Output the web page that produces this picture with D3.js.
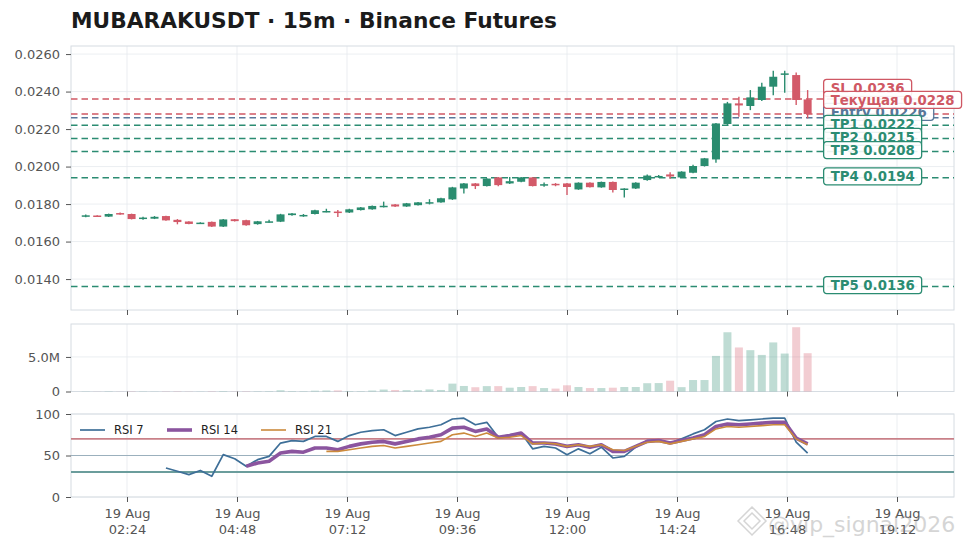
<!DOCTYPE html>
<html>
<head>
<meta charset="utf-8">
<script src="https://cdn.jsdelivr.net/npm/d3@7"></script>
<style>
  body { margin: 0; background: #fff; }
  svg { font-family: "DejaVu Sans", sans-serif; }
</style>
</head>
<body>
<div id="chart"></div>
<script>
// candles: 15m bars starting 19 Aug 01:30 UTC
const startTime = Date.UTC(2025, 7, 19, 1, 30);
const stepMinutes = 15;

const opens = [.01733,.01739,.01733,.01752,.01747,.01720,.01722,.01736,.01716,.01707,
  .01698,.01705,.01680,.01719,.01714,.01693,.01703,.01706,.01741,.01739,
  .01747,.01758,.01760,.01755,.01768,.01772,.01784,.01798,.01787,.01794,
  .01803,.01809,.01825,.01883,.01910,.01896,.01942,.01910,.01919,.01942,
  .01899,.01908,.01910,.01878,.01914,.01889,.01918,.01875,.01883,.01928,
  .01944,.01958,.01942,.01967,.02003,.02038,.02227,.02337,.02323,.02355,
  .02426,.02492,.02488,.02358];
const highs = [.01744,.01741,.01749,.01755,.01749,.01732,.01736,.01738,.01720,.01709,
  .01703,.01707,.01720,.01721,.01716,.01710,.01716,.01748,.01752,.01747,
  .01770,.01775,.01768,.01775,.01785,.01792,.01813,.01800,.01806,.01811,
  .01826,.01834,.01892,.01913,.01912,.01938,.01945,.01945,.01945,.01944,
  .01915,.01912,.01912,.01916,.01916,.01920,.01920,.01885,.01917,.01958,
  .01955,.01970,.01975,.02010,.02046,.02233,.02345,.02372,.02408,.02447,
  .02511,.02511,.02502,.02408];
const lows = [.01730,.01732,.01731,.01743,.01718,.01716,.01720,.01711,.01692,.01692,
  .01696,.01678,.01678,.01707,.01685,.01690,.01700,.01704,.01738,.01732,
  .01745,.01756,.01731,.01752,.01766,.01770,.01782,.01784,.01785,.01792,
  .01798,.01807,.01822,.01857,.01880,.01894,.01895,.01907,.01917,.01894,
  .01893,.01895,.01848,.01876,.01888,.01887,.01862,.01835,.01881,.01925,
  .01940,.01935,.01940,.01965,.02000,.02020,.02220,.02266,.02301,.02350,
  .02381,.02394,.02328,.02257];
const closes = [.01740,.01734,.01747,.01745,.01720,.01728,.01732,.01713,.01704,.01694,
  .01701,.01680,.01718,.01709,.01687,.01708,.01708,.01745,.01750,.01742,
  .01767,.01763,.01752,.01772,.01782,.01790,.01791,.01787,.01804,.01809,
  .01810,.01831,.01889,.01910,.01896,.01936,.01901,.01922,.01942,.01896,
  .01906,.01900,.01891,.01914,.01890,.01918,.01875,.01883,.01914,.01952,
  .01950,.01947,.01973,.02003,.02044,.02230,.02337,.02326,.02369,.02426,
  .02479,.02497,.02355,.02280];
// volume in millions
const volumes = [.03,.02,.04,.02,.05,.03,.02,.04,.05,.03,
  .02,.05,.06,.03,.05,.04,.05,.18,.06,.05,
  .12,.15,.16,.06,.05,.14,.28,.22,.20,.18,
  .30,.22,1.14,.80,.62,.78,.78,.55,.65,.78,
  .50,.42,.90,.65,.50,.50,.55,.65,.65,1.20,
  1.22,1.56,.63,1.66,1.66,5.15,8.57,6.37,5.98,5.29,
  7.10,5.49,9.30,5.54];

const N = null;
const rsi7 = [N,N,N,N,N,N,N,
  35,31,27,32,25,51,46,37,45,49,
  65,68,67,73,73,67,74,78,80,81,
  74,78,82,84,87,94,95,87,90,72,
  75,77,58,61,59,51,58,52,60,47,
  49,60,68,69,65,70,76,81,91,94,
  92,93,94,95,95,66,53];
const rsi14 = [N,N,N,N,N,N,N,N,N,N,N,N,N,N,
  37,41,43,53,55,54,59,59,57,61,
  64,66,67,64,67,70,72,75,83,84,
  79,82,72,74,77,65,65,64,61,63,
  60,63,55,55,61,67,68,65,68,71,
  75,85,88,87,88,89,90,90,71,64];
const rsi21 = [N,N,N,N,N,N,N,N,N,N,N,N,N,N,N,N,N,N,N,N,N,
  55,55,57,59,61,62,59,61,63,65,
  67,75,77,73,77,71,72,74,64,65,
  64,61,63,61,63,57,56,61,66,67,
  64,67,70,73,82,85,84,85,86,87,
  87,70,63];

// signal levels
const levelNames  = ["SL", "Entry", "TP1", "TP2", "TP3", "TP4", "TP5", "Текущая"];
const levelPrices = [0.0236, 0.0226, 0.0222, 0.0215, 0.0208, 0.0194, 0.0136, 0.0228];
const levelKinds  = ["stop", "entry", "tp", "tp", "tp", "tp", "tp", "stop"];

// axis ticks
const priceTicks = [0.014, 0.016, 0.018, 0.020, 0.022, 0.024, 0.026];
const volumeTicks = [0, 5];
const rsiTicks = [0, 50, 100];
const timeTicks = ["02:24", "04:48", "07:12", "09:36", "12:00", "14:24", "16:48", "19:12"];

const colors = {
  up: "#2a8c6f", down: "#d35a69",
  stop: "#cf5864", entry: "#58779a", tp: "#2b8c72",
  grid: "#e6eaee", spine: "#d6dce2", tick: "#555"
};

const W = 971, H = 548;
const left = 71, right = 954;
const pricePanel = {top: 46, bottom: 310};
const volPanel = {top: 324, bottom: 391.5};
const rsiPanel = {top: 414, bottom: 497};

const bars = opens.map((o, i) => ({
  t: new Date(startTime + i * stepMinutes * 60000),
  o, h: highs[i], l: lows[i], c: closes[i], v: volumes[i]
}));
const tTicks = timeTicks.map(s => {
  const [hh, mm] = s.split(":").map(Number);
  return new Date(Date.UTC(2025, 7, 19, hh, mm));
});

const svg = d3.select("#chart").append("svg")
  .attr("width", W).attr("height", H);

svg.append("text")
  .attr("x", 71).attr("y", 28)
  .style("font-size", "21.7px").style("font-weight", "bold").style("fill", "#1b1b1b")
  .text("MUBARAKUSDT · 15m · Binance Futures");

const x = d3.scaleUtc()
  .domain([new Date(bars[0].t.getTime() - 19.3 * 60000),
           new Date(bars[bars.length - 1].t.getTime() + 191.6 * 60000)])
  .range([left, right]);

const y = d3.scaleLinear().domain([0.01235, 0.02643]).range([pricePanel.bottom, pricePanel.top]);
const yVol = d3.scaleLinear().domain([0, d3.max(volumes) * 1.05]).range([volPanel.bottom, volPanel.top]);
const yRsi = d3.scaleLinear().domain([0, 100]).range([rsiPanel.bottom, rsiPanel.top]);

function panelFrame(p, yScale, ticks, fmt) {
  const g = svg.append("g");
  // grid
  g.selectAll(".hg").data(ticks).join("line")
    .attr("x1", left).attr("x2", right)
    .attr("y1", d => yScale(d)).attr("y2", d => yScale(d))
    .attr("stroke", colors.grid).attr("stroke-width", 0.8);
  g.selectAll(".vg").data(tTicks).join("line")
    .attr("x1", d => x(d)).attr("x2", d => x(d))
    .attr("y1", p.top).attr("y2", p.bottom)
    .attr("stroke", colors.grid).attr("stroke-width", 0.8);
  g.append("rect")
    .attr("x", left).attr("y", p.top)
    .attr("width", right - left).attr("height", p.bottom - p.top)
    .attr("fill", "none").attr("stroke", colors.spine).attr("stroke-width", 1);
  // y axis
  const ax = svg.append("g").attr("transform", `translate(${left},0)`)
    .call(d3.axisLeft(yScale).tickValues(ticks).tickFormat(fmt).tickSize(5).tickPadding(6));
  ax.select(".domain").remove();
  ax.selectAll("line").attr("stroke", colors.tick);
  ax.selectAll("text").style("font-size", "13px").style("fill", colors.tick)
    .style("font-family", "DejaVu Sans");
  // bottom ticks
  const bx = svg.append("g").attr("transform", `translate(0,${p.bottom})`)
    .call(d3.axisBottom(x).tickValues(tTicks).tickSize(5).tickFormat(""));
  bx.select(".domain").remove();
  bx.selectAll("line").attr("stroke", colors.tick);
  return bx;
}

panelFrame(pricePanel, y, priceTicks, d3.format(".4f"));
panelFrame(volPanel, yVol, volumeTicks, d => d === 0 ? "0" : d3.format(".1f")(d) + "M");
const rsiX = panelFrame(rsiPanel, yRsi, rsiTicks, d3.format("d"));

// two-line date labels under the RSI panel
rsiX.selectAll(".tick").each(function(d) {
  const t = d3.select(this).append("text")
    .attr("fill", colors.tick).attr("text-anchor", "middle")
    .style("font-size", "13px").style("font-family", "DejaVu Sans");
  t.append("tspan").attr("x", 0).attr("y", 21).text(d3.utcFormat("%-d %b")(d));
  t.append("tspan").attr("x", 0).attr("y", 37).text(d3.utcFormat("%H:%M")(d));
});

// level lines
const levels = levelNames.map((n, i) => ({name: n, price: levelPrices[i], kind: levelKinds[i]}));
svg.append("g").selectAll("line").data(levels).join("line")
  .attr("x1", left).attr("x2", right)
  .attr("y1", d => y(d.price)).attr("y2", d => y(d.price))
  .attr("stroke", d => colors[d.kind]).attr("stroke-width", 1.5)
  .attr("stroke-dasharray", "6.5,4");

// candles
const cw = 8;
const cg = svg.append("g");
cg.selectAll("line").data(bars).join("line")
  .attr("x1", d => x(d.t)).attr("x2", d => x(d.t))
  .attr("y1", d => y(d.h)).attr("y2", d => y(d.l))
  .attr("stroke", d => d.c >= d.o ? colors.up : colors.down).attr("stroke-width", 1.4);
cg.selectAll("rect").data(bars).join("rect")
  .attr("x", d => x(d.t) - cw / 2).attr("width", cw)
  .attr("y", d => y(Math.max(d.o, d.c)))
  .attr("height", d => Math.max(1.5, y(Math.min(d.o, d.c)) - y(Math.max(d.o, d.c))))
  .attr("fill", d => d.c >= d.o ? colors.up : colors.down);

// volume
svg.append("g").selectAll("rect").data(bars).join("rect")
  .attr("x", d => x(d.t) - cw / 2).attr("width", cw)
  .attr("y", d => yVol(d.v)).attr("height", d => yVol(0) - yVol(d.v))
  .attr("fill", d => d.c >= d.o ? colors.up : colors.down).attr("fill-opacity", 0.3);

// rsi reference lines
const refLines = [{v: 70, c: "#c98088", w: 1.7}, {v: 50, c: "#9bb0bd", w: 1.2}, {v: 30, c: "#6b9d9c", w: 2}];
svg.append("g").selectAll("line").data(refLines).join("line")
  .attr("x1", left).attr("x2", right)
  .attr("y1", d => yRsi(d.v)).attr("y2", d => yRsi(d.v))
  .attr("stroke", d => d.c).attr("stroke-width", d => d.w);

const rsiSeries = [
  {name: "RSI 7", vals: rsi7, color: "#3e6f98", w: 1.7},
  {name: "RSI 14", vals: rsi14, color: "#8b559f", w: 3.6},
  {name: "RSI 21", vals: rsi21, color: "#cb8a3c", w: 1.6}
];
const rsiLine = d3.line()
  .defined(d => d.v != null)
  .x(d => x(d.t)).y(d => yRsi(d.v));
svg.append("g").selectAll("path").data(rsiSeries).join("path")
  .attr("d", s => rsiLine(s.vals.map((v, i) => ({t: bars[i].t, v}))))
  .attr("fill", "none").attr("stroke", s => s.color).attr("stroke-width", s => s.w)
  .attr("stroke-linejoin", "round");

// legend
const legX = [80, 167, 261];
const leg = svg.append("g").selectAll("g").data(rsiSeries).join("g")
  .attr("transform", (d, i) => `translate(${legX[i]},430)`);
leg.append("line").attr("x1", 0).attr("x2", 25)
  .attr("stroke", d => d.color).attr("stroke-width", d => d.w);
leg.append("text").attr("x", 34).attr("y", 4)
  .style("font-size", "11.5px").style("fill", "#222").text(d => d.name);

// level labels, pushed apart from the bottom upward
const labelX = x(bars[bars.length - 1].t) + 16;
const sorted = levels.slice().sort((a, b) => a.price - b.price);
let prevY = Infinity;
sorted.forEach(d => {
  d.ly = Math.min(y(d.price) - 1.5, prevY - 12);
  prevY = d.ly;
});
const fmt4 = d3.format(".4f");
levels.forEach(d => {
  const g = svg.append("g").attr("transform", `translate(${labelX},${d.ly})`);
  const rect = g.append("rect");
  const txt = g.append("text").attr("x", 7).attr("y", 4.8)
    .style("font-size", "13.3px").style("font-weight", "bold")
    .style("fill", colors[d.kind])
    .text(`${d.name} ${fmt4(d.price)}`);
  const bb = txt.node().getBBox();
  rect.attr("x", 0).attr("y", -8.5).attr("width", bb.width + 14).attr("height", 17)
    .attr("rx", 3).attr("fill", "#fff").attr("fill-opacity", 0.9)
    .attr("stroke", colors[d.kind]).attr("stroke-width", 1.3);
});

// watermark
const wm = svg.append("g").attr("opacity", 0.35);
wm.append("path").attr("d", "M752,507 L766,521 L752,535 L738,521 Z M752,513 L760,521 L752,529 L744,521 Z")
  .attr("fill", "none").attr("stroke", "#888").attr("stroke-width", 1.5);
wm.append("text").attr("x", 768).attr("y", 532)
  .style("font-size", "22px").style("fill", "#888").text("@vip_signal2026");
</script>
</body>
</html>
